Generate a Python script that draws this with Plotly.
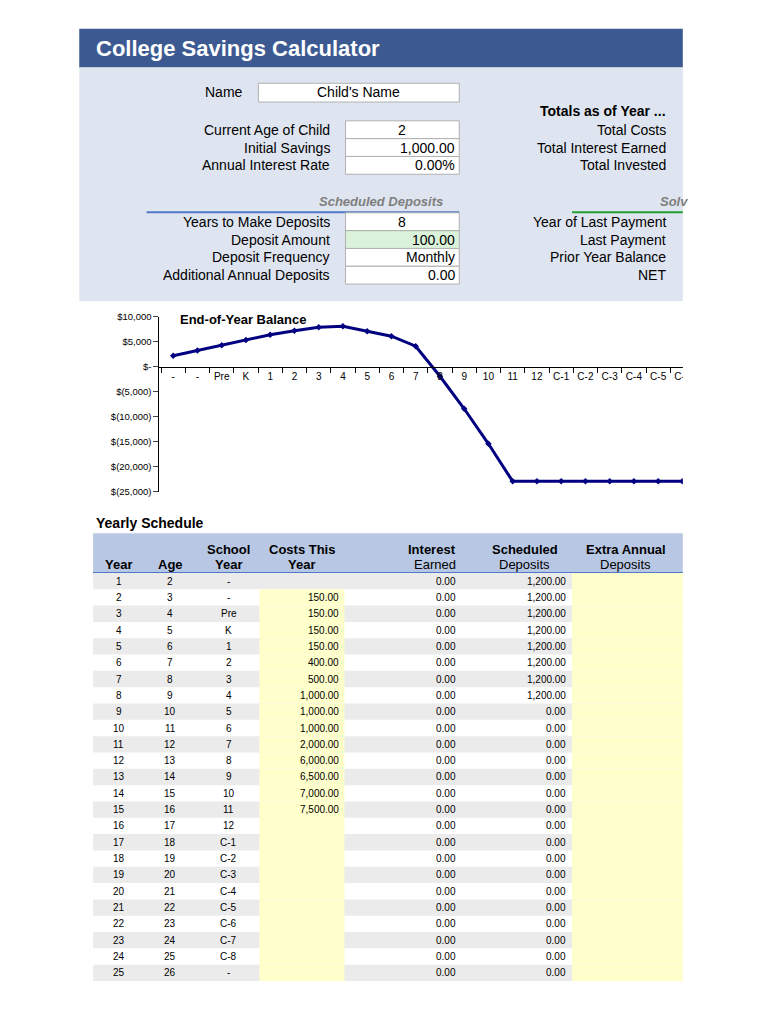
import plotly.graph_objects as go

# ---- data ----
years = list(range(1, 26))
ages = list(range(2, 27))
school_year = ["-", "-", "Pre", "K", "1", "2", "3", "4", "5", "6", "7", "8", "9", "10", "11", "12",
               "C-1", "C-2", "C-3", "C-4", "C-5", "C-6", "C-7", "C-8", "-"]
costs = [None, 150, 150, 150, 150, 400, 500, 1000, 1000, 1000, 2000, 6000, 6500, 7000, 7500,
         None, None, None, None, None, None, None, None, None, None]
interest = [0.0] * 25
scheduled = [1200, 1200, 1200, 1200, 1200, 1200, 1200, 1200] + [0] * 17
balance = [2200, 3250, 4300, 5350, 6400, 7200, 7900, 8100, 7100, 6100, 4100, -1900, -8400,
           -15400, -22900, -22900, -22900, -22900, -22900, -22900, -22900, -22900, -22900,
           -22900, -22900]
y_tickvals = [10000, 5000, 0, -5000, -10000, -15000, -20000, -25000]
y_ticktext = ["$10,000", "$5,000", "$-", "$(5,000)", "$(10,000)", "$(15,000)", "$(20,000)", "$(25,000)"]

FONT = "Liberation Sans, Arial, sans-serif"
OFF = 8  # page body margin
W, H = 768, 1024
fig = go.Figure()
shapes, ann = [], []

def rect(x0, y0, x1, y1, fill, line=None, lw=1, layer="below"):
    shapes.append(dict(type="rect", xref="x", yref="y", x0=x0, y0=y0, x1=x1, y1=y1,
                       fillcolor=fill, line=dict(color=line or fill, width=lw if line else 0), layer=layer))

def hline(x0, x1, y, color, w=2):
    shapes.append(dict(type="line", xref="x", yref="y", x0=x0, x1=x1, y0=y, y1=y,
                       line=dict(color=color, width=w), layer="below"))

def txt(x, y, s, size=14, anchor="right", color="black", bold=False, italic=False):
    if bold:
        s = "<b>%s</b>" % s
    if italic:
        s = "<i>%s</i>" % s
    ann.append(dict(x=x, y=y, xref="x", yref="y", text=s, showarrow=False, xanchor=anchor,
                    yanchor="middle", font=dict(size=size, color=color, family=FONT)))

# header & panel
rect(80, 23, 690, 62, "#3c5a91")
txt(95, 43, "College Savings Calculator", 22, "left", "white", bold=True)
rect(80, 62, 690, 298, "#dfe5f0")

# name
txt(247, 87, "Name")
rect(261, 78, 464, 97, "white", "#b0b0b0")
txt(362, 87, "Child's Name", 14, "center")

left_rows = [("Current Age of Child", "2", 125, "center"), ("Initial Savings", "1,000.00", 143, "right"),
             ("Annual Interest Rate", "0.00%", 161, "right")]
for lab, val, y, an in left_rows:
    txt(335, y, lab)
    rect(349, y - 9, 464, y + 9, "white", "#b0b0b0")
    txt(406 if an == "center" else 462, y, val, 14, an)

txt(675, 106, "Totals as of Year ...", 14, "right", bold=True)
for lab, y in [("Total Costs", 125), ("Total Interest Earned", 143), ("Total Invested", 161)]:
    txt(675, y, lab)

txt(450, 198, "Scheduled Deposits", 13, "right", "#7f7f7f", bold=True, italic=True)
hline(148, 464, 208.5, "#4f7ac7", 2)
txt(665, 198, "Solv", 13, "left", "#7f7f7f", bold=True, italic=True)
hline(578, 690, 208.5, "#22a030", 2)
dep_rows = [("Years to Make Deposits", "8", 218, "center", "white"),
            ("Deposit Amount", "100.00", 236, "right", "#d9f2d9"),
            ("Deposit Frequency", "Monthly", 254, "right", "white"),
            ("Additional Annual Deposits", "0.00", 272, "right", "white")]
for lab, val, y, an, fill in dep_rows:
    txt(335, y, lab)
    rect(349, y - 9, 464, y + 9, fill, "#b0b0b0")
    txt(406 if an == "center" else 462, y, val, 14, an)
for lab, y in [("Year of Last Payment", 218), ("Last Payment", 236), ("Prior Year Balance", 254), ("NET", 272)]:
    txt(675, y, lab)

# chart
txt(180, 317, "End-of-Year Balance", 13, "left", bold=True)
fig.add_trace(go.Scatter(x=list(range(25)), y=balance, xaxis="x2", yaxis="y2", mode="lines+markers",
                         line=dict(color="#000080", width=3), marker=dict(symbol="diamond", size=5, color="#000080"),
                         cliponaxis=True, hoverinfo="skip"))

# table
txt(95, 523, "Yearly Schedule", 14, "left", bold=True)
rect(94, 533, 690, 573, "#b8c8e4")
hline(94, 690, 573, "#4f7ac7", 2)
rh = 16.5
top = 573
for i in range(25):
    y0 = top + i * rh
    if i % 2 == 0:
        rect(94, y0, 690, y0 + rh, "#ebebeb")
    if i > 0:
        rect(262, y0, 348, y0 + rh, "#ffffcc")
    rect(578, y0, 690, y0 + rh, "#ffffcc")
    yc = y0 + rh / 2
    txt(120, yc, str(years[i]), 10, "center")
    txt(172, yc, str(ages[i]), 10, "center")
    txt(231, yc, school_year[i], 10, "center")
    if costs[i] is not None:
        txt(345, yc, "{:,.2f}".format(costs[i]), 10, "right")
    txt(463, yc, "{:,.2f}".format(interest[i]), 10, "right")
    txt(574, yc, "{:,.2f}".format(scheduled[i]), 10, "right")

txt(120, 564, "Year", 13, "center", bold=True)
txt(172, 564, "Age", 13, "center", bold=True)
txt(231, 549, "School", 13, "center", bold=True)
txt(231, 564, "Year", 13, "center", bold=True)
txt(305, 549, "Costs This", 13, "center", bold=True)
txt(305, 564, "Year", 13, "center", bold=True)
txt(463, 549, "Interest", 13, "right", bold=True)
txt(463, 564, "Earned", 13, "right")
txt(530, 549, "Scheduled", 13, "center", bold=True)
txt(530, 564, "Deposits", 13, "center")
txt(632, 549, "Extra Annual", 13, "center", bold=True)
txt(632, 564, "Deposits", 13, "center")

# white mask right of content
rect(690, 0, 800, 1100, "white", layer="above")

def fx(p):
    return (p - OFF) / W

def fy(p):
    return 1 - (p - OFF) / H

fig.update_layout(
    width=W, height=H, margin=dict(l=0, r=0, t=0, b=0), showlegend=False,
    plot_bgcolor="rgba(0,0,0,0)", paper_bgcolor="white", shapes=shapes, annotations=ann,
    xaxis=dict(range=[OFF, W + OFF], domain=[0, 1], visible=False, fixedrange=True),
    yaxis=dict(range=[H + OFF, OFF], domain=[0, 1], visible=False, fixedrange=True),
    xaxis2=dict(domain=[fx(160), fx(690)], range=[-0.61, 21.02], anchor="free", position=fy(364.5),
                showgrid=False, zeroline=False, showline=True, linecolor="black", linewidth=1,
                tickvals=list(range(25)), ticktext=school_year, ticks="",
                minor=dict(tickvals=[i - 0.5 for i in range(26)], ticks="outside", ticklen=5, tickcolor="black"),
                tickfont=dict(size=10, family=FONT, color="black")),
    yaxis2=dict(domain=[fy(491), fy(314)], range=[-25000, 10000], anchor="free",
                position=fx(160), showgrid=False, zeroline=False, showline=True,
                linecolor="black", tickvals=y_tickvals, ticktext=y_ticktext, ticks="outside", ticklen=5,
                tickfont=dict(size=9.5, family=FONT, color="black")),
)
fig.write_html("out.html")
